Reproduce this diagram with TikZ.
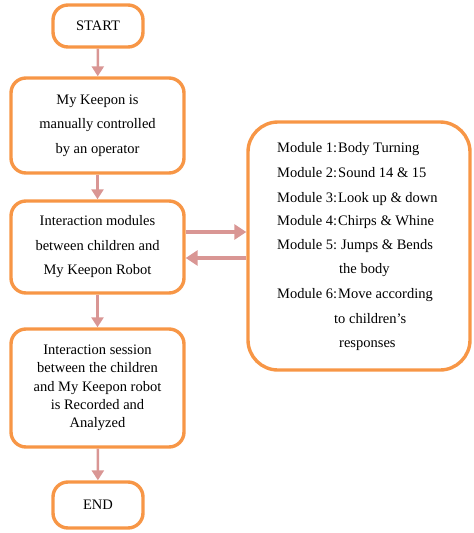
\documentclass[tikz,border=0pt]{standalone}
\usepackage{fontspec}
\setmainfont{Liberation Serif}
\usetikzlibrary{arrows.meta,calc}
\definecolor{boxorange}{RGB}{247,150,70}
\definecolor{arrowpink}{RGB}{217,150,148}
\begin{document}
\begin{tikzpicture}[x=1pt,y=-1pt,
  flowbox/.style={draw=boxorange,line width=3.4pt,rounded corners=15pt,fill=white,
    minimum width=173pt,align=center,inner sep=0pt,
    font=\fontsize{14.5}{24.5}\selectfont},
  termbox/.style={flowbox,minimum width=90pt},
  vflow/.style={draw=arrowpink,line width=2.5pt,-{Triangle[width=12pt,length=10pt]}},
  hflow/.style={draw=arrowpink,line width=4pt,-{Triangle[width=15pt,length=12pt]}},
  modtxt/.style={anchor=base west,inner sep=0pt,font=\fontsize{14.5}{17}\selectfont}]
\useasboundingbox (0,0) rectangle (474,533);
\node[termbox,minimum height=42pt] (start) at (98,26) {START};
\node[flowbox,minimum height=95pt] (keep) at (97.5,125.5) {My Keepon is\\manually controlled\\by an operator};
\node[flowbox,minimum height=92pt] (inter) at (97.5,247) {Interaction modules\\between children and\\My Keepon Robot};
\node[flowbox,minimum height=118pt,font=\fontsize{14.5}{18.3}\selectfont] (sess) at (97.5,388) {Interaction session\\between the children\\and My Keepon robot\\is Recorded and\\Analyzed};
\node[termbox,minimum height=46pt] (fin) at (98,505) {END};
\node[draw=boxorange,line width=3.4pt,rounded corners=30pt,minimum width=222pt,minimum height=248pt,inner sep=0pt] (mods) at (359,246) {};
\node[modtxt] (m1) at (277,152) {Module 1:};
\node[modtxt] (t1) at (338,152) {Body Turning};
\node[modtxt] (m2) at (277,177) {Module 2:};
\node[modtxt] (t2) at (338,177) {Sound 14 \& 15};
\node[modtxt] (m3) at (277,202) {Module 3:};
\node[modtxt] (t3) at (338,202) {Look up \& down};
\node[modtxt] (m4) at (277,225) {Module 4:};
\node[modtxt] (t4) at (338,225) {Chirps \& Whine};
\node[modtxt] (m5) at (277,249) {Module 5:};
\node[modtxt] (t5) at (341,249) {Jumps \& Bends};
\node[modtxt] (t5b) at (339,273) {the body};
\node[modtxt] (m6) at (277,298) {Module 6:};
\node[modtxt] (t6) at (338,298) {Move according};
\node[modtxt] (t6b) at (334,323) {to children’s};
\node[modtxt] (t6c) at (339,347) {responses};
\draw[vflow] (start) -- (keep);
\draw[vflow] (keep) -- (inter);
\draw[vflow] (inter) -- (sess);
\draw[vflow] (sess) -- (fin);
\draw[hflow] ([yshift=15pt]inter.east) -- ([yshift=15pt]inter.east -| mods.west);
\draw[hflow] ([yshift=-11pt]inter.east -| mods.west) -- ([yshift=-11pt]inter.east);
\end{tikzpicture}
\end{document}
